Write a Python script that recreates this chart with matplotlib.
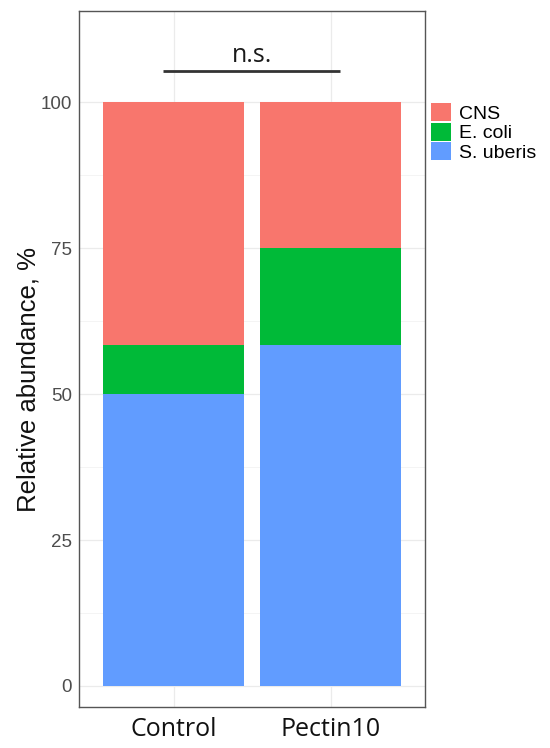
import numpy as np
import matplotlib
matplotlib.use("Agg")
import matplotlib.pyplot as plt
from matplotlib.patches import Patch


# values (percent)
groups = ["Control", "Pectin10"]
species = ["CNS", "E. coli", "S. uberis"]
s_uberis = [50.0, 58.33]
e_coli = [8.33, 16.67]
cns = [41.67, 25.0]

colors = {"CNS": "#F8766D", "E. coli": "#00BA38", "S. uberis": "#619CFF"}

# significance bracket between the two groups
sig_label = "n.s."
sig_x = [0.935, 2.062]
sig_y = 105.3

yticks = [0, 25, 50, 75, 100]

fig = plt.figure(figsize=(5.5, 7.48), dpi=100)
ax = fig.add_axes([0.1445, 0.0548, 0.628, 0.9305])

x = np.arange(1, len(groups) + 1)
width = 0.9

# stack from bottom: S. uberis, E. coli, CNS
bottom = np.zeros(len(groups))
for name, vals in [("S. uberis", s_uberis), ("E. coli", e_coli), ("CNS", cns)]:
    ax.bar(x, vals, width=width, bottom=bottom, color=colors[name],
           linewidth=0, zorder=2)
    bottom = bottom + np.array(vals)

ax.plot(sig_x, [sig_y, sig_y], color="#333333", lw=2.0, solid_capstyle="butt", zorder=3)
ax.text(np.mean(sig_x), sig_y + 1.6, sig_label, ha="center", va="baseline",
        fontsize=18, family="Open Sans", color="#1a1a1a")

ax.set_xlim(0.4, 2.6)
ax.set_ylim(-3.6, 115.6)

ax.set_xticks(x)
ax.set_xticklabels(groups, fontsize=18, family="Open Sans", color="#111111")
ax.set_yticks(yticks)
ax.set_yticklabels([str(t) for t in yticks], fontsize=13.5,
                   family="Liberation Sans", color="#4d4d4d")
ax.set_yticks(np.arange(12.5, 100, 25), minor=True)
ax.tick_params(axis="both", which="both", length=0)
ax.tick_params(axis="y", pad=5.5)
ax.tick_params(axis="x", pad=7)

ax.grid(True, which="major", color="#ebebeb", lw=0.9, zorder=0)
ax.grid(True, which="minor", axis="y", color="#f2f2f2", lw=0.6, zorder=0)
ax.set_axisbelow(True)

for s in ax.spines.values():
    s.set_color("#555555")
    s.set_linewidth(1.0)

ax.set_ylabel("Relative abundance, %", fontsize=18.5, family="Liberation Sans",
              color="#111111")
ax.yaxis.set_label_coords(-0.113, 0.47)

handles = [Patch(facecolor=colors[n], edgecolor="none", label=n) for n in species]
fig.legend(handles=handles, loc="upper left", bbox_to_anchor=(0.7836, 0.8623),
           frameon=False, prop={"family": "Liberation Sans", "size": 14},
           handlelength=1.03, handleheight=1.05, labelspacing=0.0,
           handletextpad=0.42, borderpad=0, borderaxespad=0)

fig.savefig("out.png", dpi=100)
